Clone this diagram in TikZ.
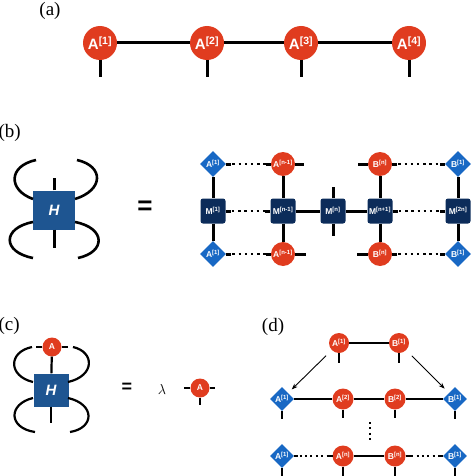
\documentclass[tikz,border=0pt]{standalone}
\usepackage{fontspec}
\setmainfont{Liberation Serif}
\setsansfont{Liberation Sans}
\usetikzlibrary{shapes.geometric,arrows.meta}
\definecolor{tred}{HTML}{E03C1F}
\definecolor{tblue}{HTML}{1868C4}
\definecolor{hblue}{HTML}{1E5591}
\definecolor{mnavy}{HTML}{0C2C5A}
\newcommand{\tlab}[2]{#1\textsuperscript{[#2]}}
\tikzset{
  site/.style={circle, fill=tred, text=white, inner sep=0pt, font=\sffamily\bfseries\fontsize{8.5}{8.5}\selectfont},
  edgesite/.style={diamond, aspect=1, fill=tblue, text=white, inner sep=0pt, font=\sffamily\bfseries\fontsize{8.5}{8.5}\selectfont},
  mpo/.style={rectangle, rounded corners=2.5pt, fill=mnavy, text=white, inner sep=0pt, minimum width=25pt, minimum height=25pt, font=\sffamily\bfseries\fontsize{8.5}{8.5}\selectfont},
  hbox/.style={rectangle, fill=hblue, text=white, inner sep=0pt, font=\sffamily\bfseries\itshape\fontsize{15}{15}\selectfont},
  bond/.style={line width=3pt},
  dotbond/.style={line width=2.4pt, dash pattern=on 2.4pt off 3.8pt},
  thinbond/.style={line width=1.6pt},
  thindot/.style={line width=2pt, dash pattern=on 2pt off 3.4pt},
  arc/.style={line width=2.6pt},
  arrow/.style={line width=0.9pt, -{Stealth[length=6pt,width=4.5pt]}},
  panel/.style={font=\fontsize{19}{19}\selectfont},
  equal/.style={font=\sffamily\bfseries\fontsize{26}{26}\selectfont}
}
\begin{document}
\begin{tikzpicture}[x=1pt,y=-1pt]
    \useasboundingbox (0,0) rectangle (474,476);

    % (a) chain of four sites
    \node[panel] (la) at (50,11) {(a)};
    \node[site, minimum size=34pt, font=\sffamily\bfseries\fontsize{15}{15}\selectfont] (a1) at (100,43) {\tlab{A}{1}};
    \node[site, minimum size=34pt, font=\sffamily\bfseries\fontsize{15}{15}\selectfont] (a2) at (207,43) {\tlab{A}{2}};
    \node[site, minimum size=34pt, font=\sffamily\bfseries\fontsize{15}{15}\selectfont] (a3) at (301,43) {\tlab{A}{3}};
    \node[site, minimum size=34pt, font=\sffamily\bfseries\fontsize{15}{15}\selectfont] (a4) at (409,43) {\tlab{A}{4}};
    \draw[bond] (a1) -- (a2) -- (a3) -- (a4);
    \foreach \i in {1,...,4}
        \draw[bond] (a\i.south) -- ++(0,17);

    % (b) H on the left
    \node[panel, anchor=west] (lb) at (-5,133) {(b)};
    \node[hbox, minimum width=42pt, minimum height=39pt] (bH) at (54,210) {H};
    \draw[bond] (bH.north) -- ++(0,-12);
    \draw[bond] (bH.south) -- ++(0,18);
    \draw[arc] (36,160) .. controls (8,166) and (8,190) .. (33,199);
    \draw[arc] (77,160) .. controls (104,166) and (104,190) .. (75,199);
    \draw[arc] (33,222) .. controls (2,228) and (2,252) .. (33,258);
    \draw[arc] (75,222) .. controls (106,228) and (106,252) .. (78,258);
    \node[equal] (beq) at (145,208) {=};

    % (b) MPO network on the right
    \node[edgesite, minimum size=26pt] (bA1t) at (213,164) {\tlab{A}{1}};
    \node[site, minimum size=24pt] (bAnt) at (283,164) {\tlab{A}{n-1}};
    \node[site, minimum size=24pt] (bBnt) at (380,164) {\tlab{B}{n}};
    \node[edgesite, minimum size=26pt] (bB1t) at (458,164) {\tlab{B}{1}};
    \node[mpo] (bM1) at (213,211) {\tlab{M}{1}};
    \node[mpo] (bMa) at (283,211) {\tlab{M}{n-1}};
    \node[mpo] (bMn) at (333,211) {\tlab{M}{n}};
    \node[mpo] (bMb) at (380,211) {\tlab{M}{n+1}};
    \node[mpo] (bM2) at (458,211) {\tlab{M}{2n}};
    \node[edgesite, minimum size=26pt] (bA1b) at (213,254) {\tlab{A}{1}};
    \node[site, minimum size=24pt] (bAnb) at (283,254) {\tlab{A}{n-1}};
    \node[site, minimum size=24pt] (bBnb) at (380,254) {\tlab{B}{n}};
    \node[edgesite, minimum size=26pt] (bB1b) at (458,254) {\tlab{B}{1}};

    \draw[bond] (bA1t) -- (bM1) -- (bA1b);
    \draw[bond] (bAnt) -- (bMa) -- (bAnb);
    \draw[bond] (bBnt) -- (bMb) -- (bBnb);
    \draw[bond] (bB1t) -- (bM2) -- (bB1b);
    \draw[bond] (bMa) -- (bMn) -- (bMb);
    \draw[bond] (bMn.north) -- ++(0,-11);
    \draw[bond] (bMn.south) -- ++(0,12);
    \foreach \l/\r in {bA1t/bAnt, bBnt/bB1t, bM1/bMa, bMb/bM2, bA1b/bAnb, bBnb/bB1b} {
        \draw[dotbond] (\l) -- (\r);
        \draw[bond] (\l.east) -- ++(5,0);
        \draw[bond] (\r.west) -- ++(-5,0);
    }
    \draw[bond] (bAnt.east) -- ++(9,0);
    \draw[bond] (bAnb.east) -- ++(11,0);
    \draw[bond] (bBnt.west) -- ++(-10,0);
    \draw[bond] (bBnb.west) -- ++(-11,0);

    % (c) eigenvalue equation
    \node[panel, anchor=west] (lc) at (-5,326) {(c)};
    \node[site, minimum size=19pt] (cA) at (52,347) {A};
    \node[hbox, minimum width=35pt, minimum height=33pt] (cH) at (51,390) {H};
    \draw[thinbond, line width=2.2pt] (cA) -- (cH);
    \draw[thinbond, line width=2.2pt] (cA.west) -- ++(-6,0);
    \draw[thinbond, line width=2.2pt] (cA.east) -- ++(6,0);
    \draw[thinbond, line width=2.2pt] (cH.south) -- ++(0,16);
    \draw[arc, line width=2.2pt] (32,347) .. controls (8,352) and (8,376) .. (33,382);
    \draw[arc, line width=2.2pt] (73,347) .. controls (95,352) and (95,376) .. (68,382);
    \draw[arc, line width=2.2pt] (33,398) .. controls (8,404) and (8,428) .. (35,432);
    \draw[arc, line width=2.2pt] (68,398) .. controls (95,404) and (95,428) .. (70,432);
    \node[equal, font=\sffamily\bfseries\fontsize{18}{18}\selectfont] (ceq) at (127,388) {=};
    \node[font=\itshape\fontsize{15}{15}\selectfont] (clam) at (162,389) {$\lambda$};
    \node[site, minimum size=19pt] (cA2) at (200,388) {A};
    \draw[thinbond, line width=2.2pt] (cA2.west) -- ++(-6,0);
    \draw[thinbond, line width=2.2pt] (cA2.east) -- ++(5,0);
    \draw[thinbond, line width=2.2pt] (cA2.south) -- ++(0,7);

    % (d) growing the chain
    \node[panel] (ld) at (273,327) {(d)};
    \node[site, minimum size=20pt] (dA1) at (339,343) {\tlab{A}{1}};
    \node[site, minimum size=20pt] (dB1) at (399,343) {\tlab{B}{1}};
    \draw[thinbond] (dA1) -- (dB1);
    \draw[bond, line width=2.2pt] (dA1.south) -- ++(0,10);
    \draw[bond, line width=2.2pt] (dB1.south) -- ++(0,10);

    \node[edgesite, minimum size=24pt] (eA1) at (282,399) {\tlab{A}{1}};
    \node[site, minimum size=21pt] (eA2) at (343,399) {\tlab{A}{2}};
    \node[site, minimum size=21pt] (eB2) at (395,399) {\tlab{B}{2}};
    \node[edgesite, minimum size=24pt] (eB1) at (455,399) {\tlab{B}{1}};
    \draw[thinbond] (eA1) -- (eA2) -- (eB2) -- (eB1);
    \foreach \n in {eA1,eA2,eB2,eB1}
        \draw[bond, line width=2.2pt] (\n.south) -- ++(0,8);

    \draw[arrow, shorten <=8pt, shorten >=5pt] (dA1) -- (eA1);
    \draw[arrow, shorten <=8pt, shorten >=6pt] (dB1) -- (eB1);

    \coordinate (dtop) at (370,422);
    \coordinate (dbot) at (370,440);
    \draw[thindot] (dtop) -- (dbot);

    \node[edgesite, minimum size=24pt] (fA1) at (282,456) {\tlab{A}{1}};
    \node[site, minimum size=21pt] (fAn) at (343,456) {\tlab{A}{n}};
    \node[site, minimum size=21pt] (fBn) at (395,456) {\tlab{B}{n}};
    \node[edgesite, minimum size=24pt] (fB1) at (455,456) {\tlab{B}{1}};
    \draw[thinbond] (fAn) -- (fBn);
    \draw[thindot] (fA1) -- (fAn);
    \draw[thindot] (fBn) -- (fB1);
    \draw[thinbond] (fA1.east) -- ++(4,0);
    \draw[thinbond] (fAn.west) -- ++(-5,0);
    \draw[thinbond] (fBn.east) -- ++(5,0);
    \draw[thinbond] (fB1.west) -- ++(-4,0);
    \foreach \n in {fA1,fAn,fBn,fB1}
        \draw[bond, line width=2.2pt] (\n.south) -- ++(0,12);

\end{tikzpicture}
\end{document}
